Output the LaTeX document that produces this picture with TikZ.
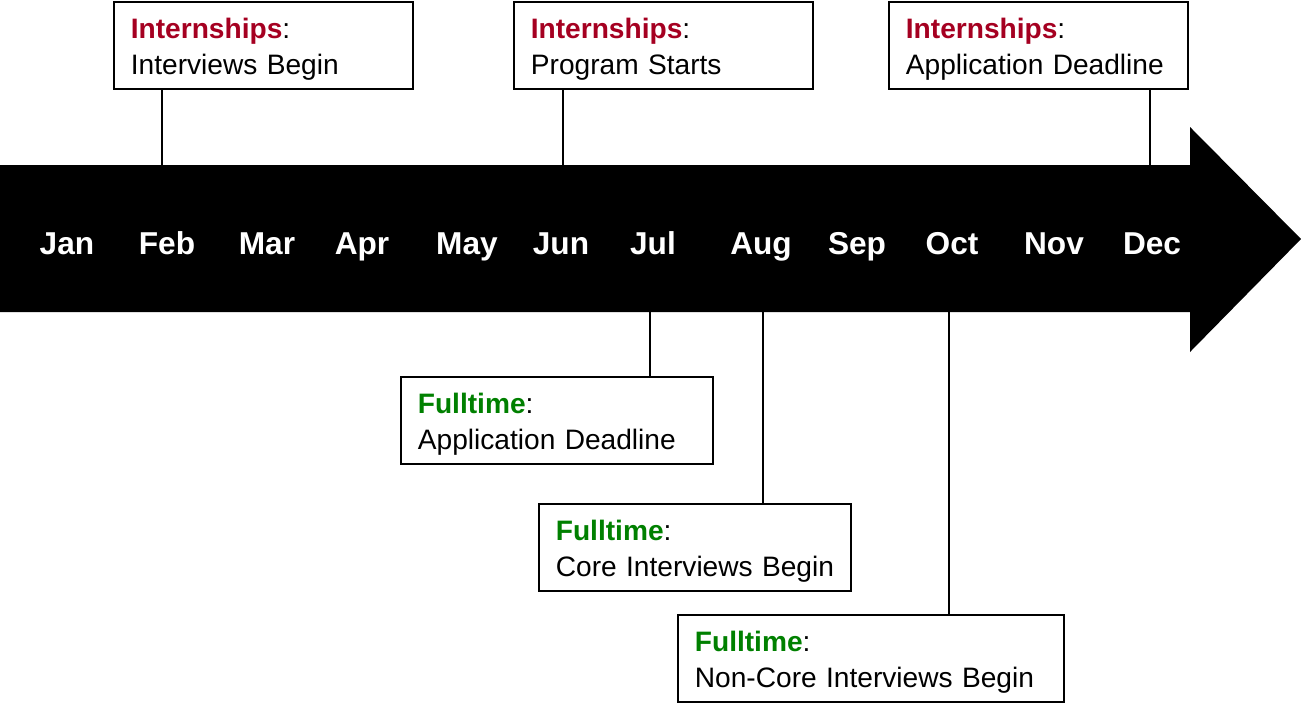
\documentclass[tikz,border=0pt]{standalone}
\usepackage{fontspec}
\setmainfont{Liberation Sans}
\usetikzlibrary{positioning}
\definecolor{internred}{HTML}{A50021}
\definecolor{fullgreen}{HTML}{008000}
\tikzstyle{event} = [rectangle, draw=black, line width=1pt, anchor=north west, align=left, inner xsep=0.34cm, minimum height=1.74cm, font=\fontsize{16}{20}\selectfont]
\tikzstyle{month} = [text=white, font=\fontsize{18}{22}\selectfont\bfseries, anchor=base]
\tikzstyle{link} = [line width=1pt]
\newcommand{\intern}[1]{\rule{0pt}{16pt}\textcolor{internred}{\textbf{Internships}}:\\\mbox{#1}}
\newcommand{\fulltime}[1]{\rule{0pt}{16pt}\textcolor{fullgreen}{\textbf{Fulltime}}:\\\mbox{#1}}

\begin{document}
\begin{tikzpicture}
	\useasboundingbox (0,0) rectangle (26.02,-14.06);
	% timeline arrow
	\fill [black] (0,-3.3) -- (23.8,-3.3) -- (23.8,-2.54) -- (26.02,-4.78) -- (23.8,-7.04) -- (23.8,-6.24) -- (0,-6.24) -- cycle;

	\node (jan) [month] at (1.34,-5.08) {Jan};
	\node (feb) [month] at (3.34,-5.08) {Feb};
	\node (mar) [month] at (5.34,-5.08) {Mar};
	\node (apr) [month] at (7.24,-5.08) {Apr};
	\node (may) [month] at (9.34,-5.08) {May};
	\node (jun) [month] at (11.22,-5.08) {Jun};
	\node (jul) [month] at (13.06,-5.08) {Jul};
	\node (aug) [month] at (15.22,-5.08) {Aug};
	\node (sep) [month] at (17.14,-5.08) {Sep};
	\node (oct) [month] at (19.04,-5.08) {Oct};
	\node (nov) [month] at (21.08,-5.08) {Nov};
	\node (dec) [month] at (23.04,-5.08) {Dec};

	% internships
	\node (intv) [event, text width=5.30cm] at (2.26,-0.02) {\intern{Interviews Begin}};
	\node (prog) [event, text width=5.30cm] at (10.26,-0.02) {\intern{Program Starts}};
	\node (appl) [event, text width=5.30cm] at (17.76,-0.02) {\intern{Application Deadline}};

	% fulltime
	\node (fapp) [event, text width=5.56cm] at (8.0,-7.52) {\fulltime{Application Deadline}};
	\node (fcore) [event, text width=5.56cm] at (10.76,-10.06) {\fulltime{Core Interviews Begin}};
	\node (fnon) [event, text width=7.04cm] at (13.54,-12.28) {\fulltime{Non-Core Interviews Begin}};

	\coordinate (tFeb) at (3.24,-3.3);
	\coordinate (tJun) at (11.26,-3.3);
	\coordinate (tDec) at (23.0,-3.3);
	\coordinate (bJul) at (13.0,-6.24);
	\coordinate (bAug) at (15.26,-6.24);
	\coordinate (bOct) at (18.98,-6.24);

	\draw [link] (tFeb) -- (tFeb |- intv.south);
	\draw [link] (tJun) -- (tJun |- prog.south);
	\draw [link] (tDec) -- (tDec |- appl.south);
	\draw [link] (bJul) -- (bJul |- fapp.north);
	\draw [link] (bAug) -- (bAug |- fcore.north);
	\draw [link] (bOct) -- (bOct |- fnon.north);
\end{tikzpicture}
\end{document}
